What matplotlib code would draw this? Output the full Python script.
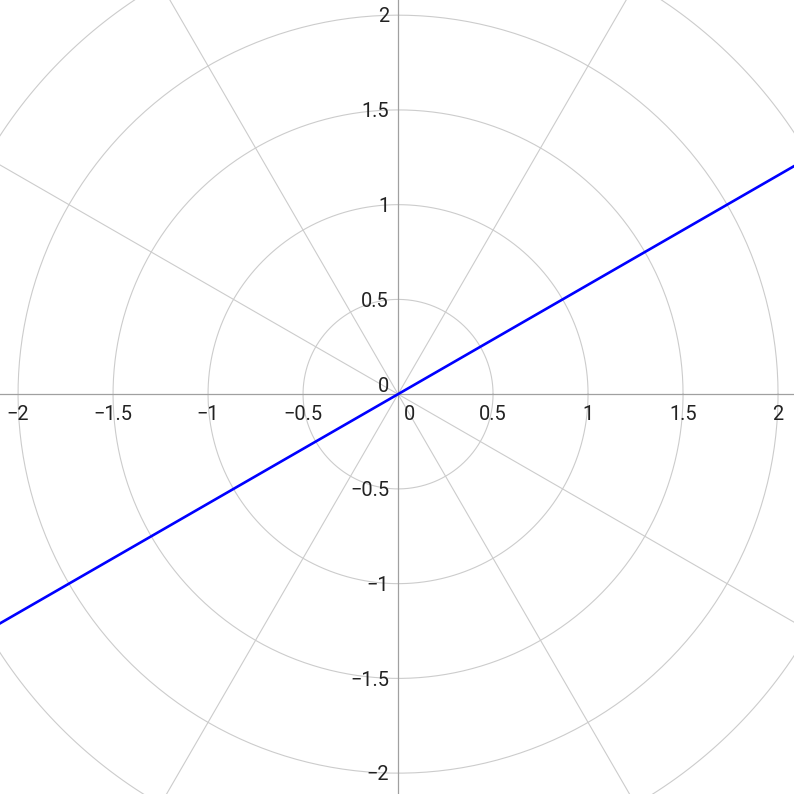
import numpy as np
import matplotlib
matplotlib.use('Agg')
import matplotlib.pyplot as plt

# polar grid: circle radii and spoke angles (degrees)
radii = [0.5, 1.0, 1.5, 2.0, 2.5, 3.0]
spoke_angles = [30, 60, 120, 150, 210, 240, 300, 330]
xticks = [-2, -1.5, -1, -0.5, 0.5, 1, 1.5, 2]
yticks = [-2, -1.5, -1, -0.5, 0.5, 1, 1.5, 2]

# line through origin, theta = pi/6
line_theta = 30
line_r = [-4, 4]

plt.rcParams['font.family'] = ['Roboto', 'DejaVu Sans']

fig = plt.figure(figsize=(7.94, 7.94), dpi=100)
ax = fig.add_axes([0, 0, 1, 1])
ax.set_xlim(-2.095, 2.084)
ax.set_ylim(-2.11, 2.08)
ax.axis('off')

grid_col = '#cccccc'
t = np.linspace(0, 2 * np.pi, 400)
for r in radii:
  ax.plot(r * np.cos(t), r * np.sin(t), color=grid_col, lw=0.8, zorder=1)
for a in spoke_angles:
  th = np.radians(a)
  ax.plot([0, 4 * np.cos(th)], [0, 4 * np.sin(th)], color=grid_col, lw=0.8, zorder=1)

ax.axhline(0, color='#a0a0a0', lw=0.9, zorder=2)
ax.axvline(0, color='#a0a0a0', lw=0.9, zorder=2)

def fmt(v):
  s = ('%g' % v)
  return s.replace('-', '\u2212')

fs = 14.4
tc = '#222222'
for v in xticks:
  ax.annotate(fmt(v), (v, 0), xytext=(0, -7.5), textcoords='offset points',
              ha='center', va='top', fontsize=fs, color=tc, zorder=3)
for v in yticks:
  ax.annotate(fmt(v), (0, v), xytext=(-6.5, -1.2), textcoords='offset points',
              ha='right', va='center', fontsize=fs, color=tc, zorder=3)
ax.annotate('0', (0, 0), xytext=(-6.5, 1.5), textcoords='offset points',
            ha='right', va='baseline', fontsize=fs, color=tc, zorder=3)
ax.annotate('0', (0, 0), xytext=(4.5, -7.5), textcoords='offset points',
            ha='left', va='top', fontsize=fs, color=tc, zorder=3)

th = np.radians(line_theta)
ax.plot([r * np.cos(th) for r in line_r], [r * np.sin(th) for r in line_r],
        color='#0000ff', lw=1.9, zorder=4)

fig.savefig('out.png', dpi=100)
